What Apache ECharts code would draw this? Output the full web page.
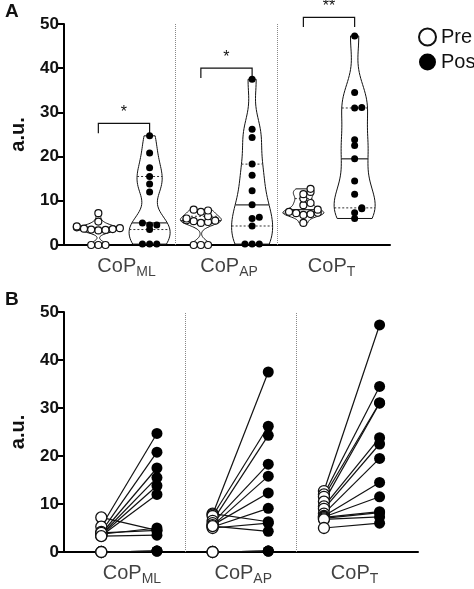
<!DOCTYPE html>
<html>
<head>
<meta charset="UTF-8">
<script src="https://cdn.jsdelivr.net/npm/echarts@6/dist/echarts.min.js"></script>
<style>
  body { margin: 0; background: #fff; }
  #main { width: 474px; height: 589px; }
</style>
</head>
<body>
<div id="main"></div>
<script>
// data (one value per subject, paired pre/post)
var groupNames = ['ML', 'AP', 'T'];
var mlPre  = [7.2, 5.3, 4.2, 3.8, 3.6, 3.5, 3.4, 3.7, 4.0, 3.3, 0, 0, 0];
var mlPost = [4.5, 24.7, 20.8, 17.5, 15.5, 13.8, 12.0, 5.0, 4.5, 3.5, 0.2, 0.2, 0.2];
var apPre  = [8.0, 7.8, 7.5, 6.5, 6.0, 5.5, 5.6, 5.2, 5.0, 5.4, 0, 0, 0];
var apPost = [6.3, 37.5, 26.2, 24.3, 18.3, 15.8, 12.3, 9.1, 6.0, 4.3, 0.2, 0.2, 0.2];
var tPre   = [12.7, 12.0, 11.5, 10.5, 9.5, 9.0, 8.0, 7.5, 7.3, 7.2, 7.0, 6.8, 5.0];
var tPost  = [47.3, 34.5, 31.1, 31.0, 23.8, 22.5, 19.5, 14.5, 11.5, 8.4, 8.2, 7.3, 6.0];
var sigMarks = ['*', '*', '**'];
var sigHeights = [27.5, 40, 51.5];

var pres = [mlPre, apPre, tPre];
var posts = [mlPost, apPost, tPost];
function center(i) { return 1.17 + 2 * i; }
function preX(i) { return center(i) - 0.5; }
function postX(i) { return center(i) + 0.5; }

// simple kde
function kde(vals, y, bw) {
  var s = 0;
  vals.forEach(function (v) { var u = (y - v) / bw; s += Math.exp(-0.5 * u * u); });
  return s;
}
function sorted(a) { return a.slice().sort(function (a, b) { return a - b; }); }
function quant(a, q) {
  var s = sorted(a), p = (s.length - 1) * q, lo = Math.floor(p);
  return s[lo] + (s[Math.min(lo + 1, s.length - 1)] - s[lo]) * (p - lo);
}
function violinShape(vals, cx) {
  var s = sorted(vals), min = s[0], max = s[s.length - 1];
  var mean = vals.reduce(function (a, b) { return a + b; }, 0) / vals.length;
  var sd = Math.sqrt(vals.reduce(function (a, b) { return a + (b - mean) * (b - mean); }, 0) / vals.length);
  var bw = Math.max(0.6 * sd * Math.pow(vals.length, -0.2), 0.55);
  var ys = [], ws = [], maxW = 0;
  for (var k = 0; k <= 60; k++) {
    var y = min + (max - min) * k / 60;
    var w = kde(vals, y, bw);
    ys.push(y); ws.push(w); maxW = Math.max(maxW, w);
  }
  var half = 0.4;
  var width = function (y) { return kde(vals, y, bw) / maxW * half; };
  var pts = [];
  ys.forEach(function (y, k) { pts.push([cx + ws[k] / maxW * half, y]); });
  for (var k = ys.length - 1; k >= 0; k--) pts.push([cx - ws[k] / maxW * half, ys[k]]);
  return { pts: pts, width: width, q1: quant(vals, 0.25), med: quant(vals, 0.5), q3: quant(vals, 0.75) };
}

var violins = [];
for (var i = 0; i < 3; i++) {
  violins.push(violinShape(pres[i], preX(i)));
  violins.push(violinShape(posts[i], postX(i)));
}

// jitter: spread points with similar values sideways
function swarm(vals, cx) {
  var out = [], used = [];
  sorted(vals).forEach(function (v) {
    var n = used.filter(function (u) { return Math.abs(u - v) < 0.9; }).length;
    used.push(v);
    var off = (n === 0) ? 0 : (n % 2 ? 1 : -1) * Math.ceil(n / 2) * 0.14;
    out.push([cx + off, v]);
  });
  return out;
}
var aPre = [], aPost = [];
for (var i = 0; i < 3; i++) {
  aPre = aPre.concat(swarm(pres[i], preX(i)));
  aPost = aPost.concat(swarm(posts[i], postX(i)));
}

var bPre = [], bPost = [], bPairs = [];
for (var i = 0; i < 3; i++) {
  pres[i].forEach(function (v, k) {
    bPre.push([preX(i), v]);
    bPost.push([postX(i), posts[i][k]]);
    bPairs.push([preX(i), v, postX(i), posts[i][k]]);
  });
}

var labelRich = {
  m: { fontSize: 20, fontFamily: 'Arial', color: '#111' },
  s: { fontSize: 14, fontFamily: 'Arial', color: '#111', padding: [12, 0, 0, 0] }
};
function catLabels() {
  return groupNames.map(function (g, i) { return { value: [center(i) + 0.05, 0], name: g }; });
}

var yAxisStyle = {
  type: 'value', min: 0, max: 50, interval: 10,
  axisLine: { show: true, lineStyle: { color: '#000', width: 2 } },
  axisTick: { show: true, length: 7, lineStyle: { color: '#000', width: 2 } },
  splitLine: { show: false },
  axisLabel: { color: '#111', fontWeight: 'bold', fontSize: 17, fontFamily: 'Arial', margin: 5 },
  name: 'a.u.', nameLocation: 'middle', nameGap: 36,
  nameTextStyle: { color: '#111', fontWeight: 'bold', fontSize: 20, fontFamily: 'Arial' }
};
function xAxisStyle(gi) {
  return {
    type: 'value', gridIndex: gi, min: 0, max: 6.36,
    axisLine: { show: true, onZero: false, lineStyle: { color: '#000', width: 2 } },
    axisTick: { show: false }, axisLabel: { show: false }, splitLine: { show: false }
  };
}
var sepLines = {
  silent: true, symbol: 'none', label: { show: false },
  lineStyle: { type: 'dotted', color: '#888', width: 1 },
  data: [{ xAxis: 2.17 }, { xAxis: 4.17 }]
};

var option = {
  animation: false,
  grid: [
    { left: 56, top: 24, width: 334, height: 221 },
    { left: 56, top: 312, width: 362, height: 240 }
  ],
  xAxis: [xAxisStyle(0), xAxisStyle(1)],
  yAxis: [Object.assign({ gridIndex: 0 }, yAxisStyle), Object.assign({ gridIndex: 1 }, yAxisStyle)],
  legend: {
    orient: 'vertical', left: 413, top: 22, itemGap: 5, itemWidth: 17, itemHeight: 17,
    textStyle: { fontSize: 20, fontFamily: 'Arial', color: '#111' },
    data: ['Pre', 'Post']
  },
  graphic: [
    { type: 'text', left: 5, top: 2, style: { text: 'A', font: 'bold 19px Arial', fill: '#111' } },
    { type: 'text', left: 5, top: 290, style: { text: 'B', font: 'bold 19px Arial', fill: '#111' } }
  ],
  series: [
    {
      type: 'custom', xAxisIndex: 0, yAxisIndex: 0, silent: true,
      data: violins.map(function (v, k) { return [k]; }),
      markLine: sepLines,
      renderItem: function (params, api) {
        var v = violins[params.dataIndex];
        var cx = (params.dataIndex % 2 === 0) ? preX(params.dataIndex >> 1) : postX(params.dataIndex >> 1);
        var kids = [{
          type: 'polygon',
          shape: { points: v.pts.map(function (p) { return api.coord(p); }) },
          style: { fill: 'none', stroke: '#111', lineWidth: 1 }
        }];
        [['q1', true], ['med', false], ['q3', true]].forEach(function (q) {
          var y = v[q[0]], w = v.width(y);
          var a = api.coord([cx - w, y]), b = api.coord([cx + w, y]);
          kids.push({ type: 'line', shape: { x1: a[0], y1: a[1], x2: b[0], y2: b[1] },
            style: { stroke: '#333', lineWidth: q[1] ? 1 : 1.3, lineDash: q[1] ? [2, 2] : null } });
        });
        return { type: 'group', children: kids };
      }
    },
    {
      type: 'custom', xAxisIndex: 0, yAxisIndex: 0, silent: true, clip: false,
      data: sigHeights.map(function (h, i) { return [i]; }),
      renderItem: function (params, api) {
        var i = params.dataIndex, h = sigHeights[i];
        var p = [api.coord([preX(i), h - 2.2]), api.coord([preX(i), h]), api.coord([postX(i), h]), api.coord([postX(i), h - 2.2])];
        var t = api.coord([center(i), h + 0.6]);
        return { type: 'group', children: [
          { type: 'polyline', shape: { points: p }, style: { fill: 'none', stroke: '#111', lineWidth: 1.2 } },
          { type: 'text', style: { text: sigMarks[i], x: t[0], y: t[1], textAlign: 'center', textVerticalAlign: 'bottom', font: '16px Arial', fill: '#111' } }
        ] };
      }
    },
    {
      name: 'Pre', type: 'scatter', xAxisIndex: 0, yAxisIndex: 0, data: aPre, symbolSize: 7, z: 5,
      itemStyle: { color: '#fff', borderColor: '#111', borderWidth: 1.2, opacity: 1 }
    },
    {
      name: 'Post', type: 'scatter', xAxisIndex: 0, yAxisIndex: 0, data: aPost, symbolSize: 7, z: 5,
      itemStyle: { color: '#000', opacity: 1 }
    },
    {
      type: 'scatter', xAxisIndex: 0, yAxisIndex: 0, symbolSize: 0, silent: true, data: catLabels(),
      label: { show: true, position: 'bottom', distance: 8, formatter: function (p) { return '{m|CoP}{s|' + p.name + '}'; }, rich: labelRich }
    },
    {
      type: 'custom', xAxisIndex: 1, yAxisIndex: 1, silent: true,
      data: bPairs, markLine: sepLines,
      renderItem: function (params, api) {
        var a = api.coord([api.value(0), api.value(1)]), b = api.coord([api.value(2), api.value(3)]);
        return { type: 'line', shape: { x1: a[0], y1: a[1], x2: b[0], y2: b[1] }, style: { stroke: '#111', lineWidth: 1.2 } };
      }
    },
    {
      name: 'Pre', type: 'scatter', xAxisIndex: 1, yAxisIndex: 1, data: bPre, symbolSize: 11, z: 5, clip: false,
      itemStyle: { color: '#fff', borderColor: '#111', borderWidth: 1.3, opacity: 1 }
    },
    {
      name: 'Post', type: 'scatter', xAxisIndex: 1, yAxisIndex: 1, data: bPost, symbolSize: 11, z: 5, clip: false,
      itemStyle: { color: '#000', opacity: 1 }
    },
    {
      type: 'scatter', xAxisIndex: 1, yAxisIndex: 1, symbolSize: 0, silent: true, data: catLabels(),
      label: { show: true, position: 'bottom', distance: 8, formatter: function (p) { return '{m|CoP}{s|' + p.name + '}'; }, rich: labelRich }
    }
  ]
};
echarts.init(document.getElementById('main')).setOption(option);
</script>
</body>
</html>
